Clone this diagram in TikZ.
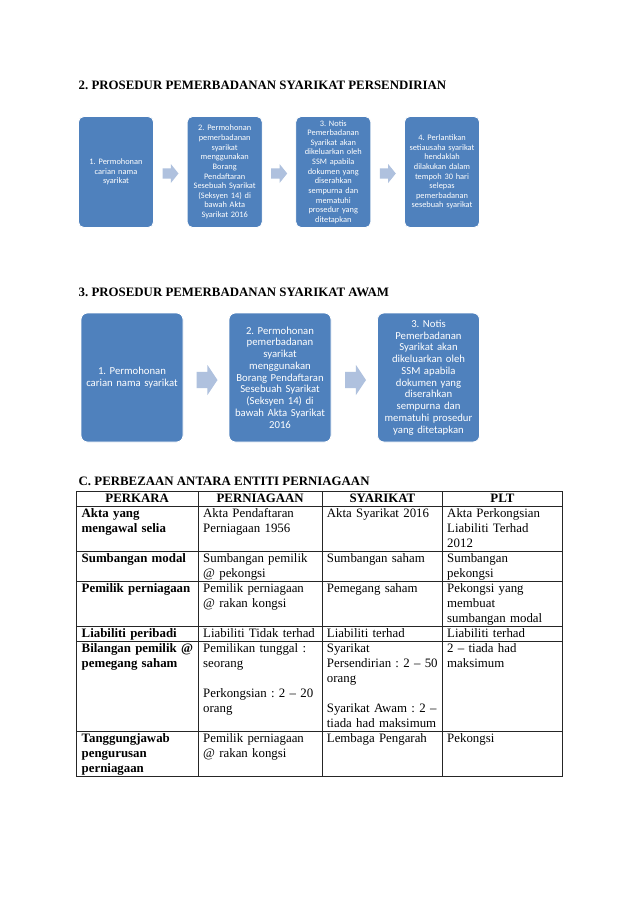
\documentclass[tikz,border=0pt]{standalone}
\usepackage{fontspec}
\setmainfont{Liberation Serif}
\newfontfamily\calibri{Carlito}
\frenchspacing
\definecolor{boxblue}{HTML}{4F81BD}
\definecolor{arrowblue}{HTML}{AFC1DE}
\def\px{0.93323pt}
\tikzset{
  heading/.style={anchor=base west, inner sep=0pt, font=\bfseries\fontsize{12}{14}\selectfont},
  boxsmall/.style={draw=white, line width=0.8pt, fill=boxblue, rounded corners=5pt,
    minimum width=75*\px, minimum height=111*\px, text width=74*\px, inner sep=0pt,
    align=center, text=white, font=\calibri\frenchspacing\fontsize{7.8}{9}\selectfont},
  boxlarge/.style={draw=white, line width=0.8pt, fill=boxblue, rounded corners=6pt,
    minimum width=102*\px, minimum height=129*\px, text width=101*\px, inner sep=0pt,
    align=center, text=white, font=\calibri\frenchspacing\fontsize{10}{11}\selectfont},
  blockarrow/.pic={\fill[arrowblue] (-0.5,-0.27) -- (0.02,-0.27) -- (0.02,-0.5) -- (0.5,0)
      -- (0.02,0.5) -- (0.02,0.27) -- (-0.5,0.27) -- cycle;},
  cell/.style={anchor=base west, inner sep=0pt, text width=4.2cm, align=left,
    font=\frenchspacing\fontsize{12}{14}\selectfont},
  cellb/.style={cell, font=\frenchspacing\bfseries\fontsize{12}{14}\selectfont},
  headcell/.style={anchor=base, inner sep=0pt, font=\bfseries\fontsize{12}{14}\selectfont},
  grid/.style={line width=0.6pt, draw=black!85}
}
\begin{document}
\begin{tikzpicture}[x=0.93323pt, y=-0.93323pt]
\fill[white] (0,0) rectangle (638,902);
\useasboundingbox (0,0) rectangle (638,902);

% ---- Heading 2 ----
\node[heading] (h2) at (78.5,89) {2. PROSEDUR PEMERBADANAN SYARIKAT PERSENDIRIAN};

\node[boxsmall] (p1) at (116,172) {1. Permohonan\\carian nama\\syarikat};
\node[boxsmall] (p2) at (224.7,172) {2. Permohonan\\pemerbadanan\\syarikat\\menggunakan\\Borang\\Pendaftaran\\Sesebuah Syarikat\\(Seksyen 14) di\\bawah Akta\\Syarikat 2016};
\node[boxsmall] (p3) at (333.3,172) {3. Notis\\Pemerbadanan\\Syarikat akan\\dikeluarkan oleh\\SSM apabila\\dokumen yang\\diserahkan\\sempurna dan\\mematuhi\\prosedur yang\\ditetapkan};
\node[boxsmall] (p4) at (442,172) {4. Perlantikan\\setiausaha syarikat\\hendaklah\\dilakukan dalam\\tempoh 30 hari\\selepas\\pemerbadanan\\sesebuah syarikat};
\pic[xscale=16, yscale=19] (pa1) at (170.5,173.5) {blockarrow};
\pic[xscale=16, yscale=19] (pa2) at (279.2,173.5) {blockarrow};
\pic[xscale=16, yscale=19] (pa3) at (387.8,173.5) {blockarrow};

% ---- Heading 3 ----
\node[heading] (h3) at (78.5,296) {3. PROSEDUR PEMERBADANAN SYARIKAT AWAM};

\node[boxlarge] (q1) at (132,377.5) {1. Permohonan\\carian nama syarikat};
\node[boxlarge] (q2) at (280,377.5) {2. Permohonan\\pemerbadanan\\syarikat\\menggunakan\\Borang Pendaftaran\\Sesebuah Syarikat\\(Seksyen 14) di\\bawah Akta Syarikat\\2016};
\node[boxlarge] (q3) at (428.5,377.5) {3. Notis\\Pemerbadanan\\Syarikat akan\\dikeluarkan oleh\\SSM apabila\\dokumen yang\\diserahkan\\sempurna dan\\mematuhi prosedur\\yang ditetapkan};
\pic[xscale=21, yscale=30] (qa1) at (207,380) {blockarrow};
\pic[xscale=21, yscale=30] (qa2) at (355.5,380) {blockarrow};

% ---- Heading C ----
\node[heading] (hc) at (78.5,485.5) {C. PERBEZAAN ANTARA ENTITI PERNIAGAAN};

% ---- Table grid ----
\def\Xa{76}\def\Xb{198.3}\def\Xc{322}\def\Xd{442.7}\def\Xe{562}
\draw[grid] (\Xa,491) rectangle (\Xe,776);
\foreach \yy in {506,551,581,626,641,731} \draw[grid] (\Xa,\yy) -- (\Xe,\yy);
\foreach \xx in {\Xb,\Xc,\Xd} \draw[grid] (\xx,491) -- (\xx,776);

% header
\node[headcell] (t01) at (137.2,502.5) {PERKARA};
\node[headcell] (t02) at (260.2,502.5) {PERNIAGAAN};
\node[headcell] (t03) at (382.4,502.5) {SYARIKAT};
\node[headcell] (t04) at (502.4,502.5) {PLT};

% row 1
\node[cellb] (t11) at (81.5,517.5) {Akta yang\\mengawal selia};
\node[cell] (t12) at (203,517.5) {Akta Pendaftaran\\Perniagaan 1956};
\node[cell] (t13) at (326.7,517.5) {Akta Syarikat 2016};
\node[cell] (t14) at (447,517.5) {Akta Perkongsian\\Liabiliti Terhad\\2012};
% row 2
\node[cellb] (t21) at (81.5,562.5) {Sumbangan modal};
\node[cell] (t22) at (203,562.5) {Sumbangan pemilik\\@ pekongsi};
\node[cell] (t23) at (326.7,562.5) {Sumbangan saham};
\node[cell] (t24) at (447,562.5) {Sumbangan\\pekongsi};
% row 3
\node[cellb] (t31) at (81.5,592.5) {Pemilik perniagaan};
\node[cell] (t32) at (203,592.5) {Pemilik perniagaan\\@ rakan kongsi};
\node[cell] (t33) at (326.7,592.5) {Pemegang saham};
\node[cell] (t34) at (447,592.5) {Pekongsi yang\\membuat\\sumbangan modal};
% row 4
\node[cellb] (t41) at (81.5,637.5) {Liabiliti peribadi};
\node[cell] (t42) at (203,637.5) {Liabiliti Tidak terhad};
\node[cell] (t43) at (326.7,637.5) {Liabiliti terhad};
\node[cell] (t44) at (447,637.5) {Liabiliti terhad};
% row 5
\node[cellb] (t51) at (81.5,652.5) {Bilangan pemilik @\\pemegang saham};
\node[cell] (t52) at (203,652.5) {Pemilikan tunggal :\\seorang\\[14pt]Perkongsian : 2 – 20\\orang};
\node[cell] (t53) at (326.7,652.5) {Syarikat\\Persendirian : 2 – 50\\orang\\[14pt]Syarikat Awam : 2 –\\tiada had maksimum};
\node[cell] (t54) at (447,652.5) {2 – tiada had\\maksimum};
% row 6
\node[cellb] (t61) at (81.5,742.5) {Tanggungjawab\\pengurusan\\perniagaan};
\node[cell] (t62) at (203,742.5) {Pemilik perniagaan\\@ rakan kongsi};
\node[cell] (t63) at (326.7,742.5) {Lembaga Pengarah};
\node[cell] (t64) at (447,742.5) {Pekongsi};
\end{tikzpicture}
\end{document}
